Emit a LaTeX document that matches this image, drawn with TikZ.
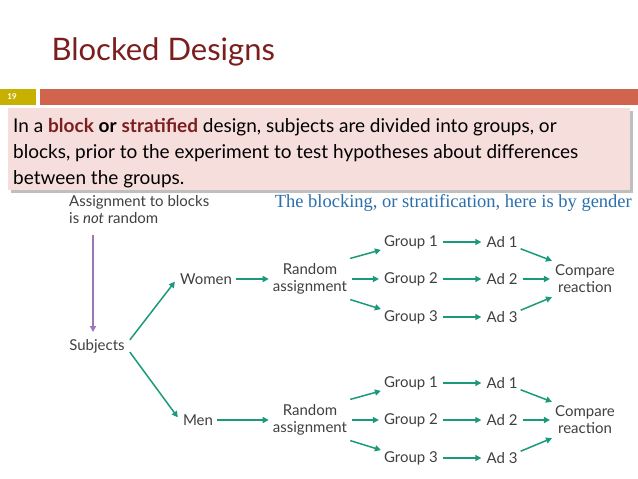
\documentclass[tikz,border=0pt]{standalone}
\usepackage{fontspec}
\setmainfont{Liberation Serif}
\setsansfont{Lato}
\usetikzlibrary{arrows.meta}
\definecolor{ttl}{HTML}{7A1E1E}
\definecolor{bar}{HTML}{D0644C}
\definecolor{num}{HTML}{C8B000}
\definecolor{pinkbg}{HTML}{F6DEDC}
\definecolor{grn}{HTML}{1A9A7A}
\definecolor{prp}{HTML}{9A78B8}
\definecolor{blu}{HTML}{2A6FAE}
\definecolor{txt}{HTML}{404040}
\tikzset{
 lbl/.style={font=\sffamily\fontsize{15}{17}\selectfont, text=txt, align=center, inner sep=1pt},
 ga/.style={draw=grn, line width=1.5pt, -{Triangle[length=6pt,width=6pt]}},
}
\begin{document}
\begin{tikzpicture}[x=1pt,y=-1pt]
\useasboundingbox (0,0) rectangle (638,479);
\fill[white] (0,0) rectangle (638,479);
\node[anchor=west, font=\sffamily\fontsize{31}{33}\selectfont, text=ttl] (title) at (48,52) {Blocked Designs};
\fill[num] (0,89) rectangle (36,105);
\node[font=\sffamily\bfseries\fontsize{8}{9}\selectfont, text=white] (n) at (12,97) {19};
\fill[bar] (40,89) rectangle (638,105);
\fill[gray!50] (11,111) rectangle (633,193);
\fill[pinkbg] (8,108) rectangle (630,190);
\node[anchor=north west, font=\sffamily\fontsize{19}{26}\selectfont, align=left, text=black, inner sep=0pt] (box) at (13,118)
 {In a \textbf{\color{ttl}block} \textbf{or} \textbf{\color{ttl}stratified} design, subjects are divided into groups, or\\
 blocks, prior to the experiment to test hypotheses about differences\\
 between the groups.};
\node[anchor=east, font=\fontsize{18.5}{20}\selectfont, text=blu, inner sep=0pt] (bl) at (632,203) {The blocking, or stratification, here is by gender};
\node[anchor=north west, lbl, align=left] (asg) at (68,194) {Assignment to blocks\\is \emph{not} random};
\node[lbl] (subj) at (97,346) {Subjects};
\draw[draw=prp, line width=1.5pt, -{Triangle[length=6pt,width=6pt]}] (93,235) -- (93,332);
\foreach \k/\y/\nm/\xx in {w/279/Women/206, m/420/Men/198}{
 \node[lbl] (\k) at (\xx,\y) {\nm};
 \node[lbl] (\k r) at (310,\y) {Random\\assignment};
 \node[lbl] (\k g1) at (411,\y-37) {Group 1};
 \node[lbl] (\k g2) at (411,\y) {Group 2};
 \node[lbl] (\k g3) at (411,\y+38) {Group 3};
 \node[lbl] (\k a1) at (502,\y-37) {Ad 1};
 \node[lbl] (\k a2) at (502,\y) {Ad 2};
 \node[lbl] (\k a3) at (502,\y+38) {Ad 3};
 \node[lbl] (\k c) at (585,\y) {Compare\\reaction};
 \draw[ga] (\k.east) ++(3,0) -- ([xshift=-3pt]\k r.west);
 \draw[ga] ([xshift=2pt,yshift=4pt]\k r.north east) -- ([xshift=-2pt]\k g1.south west);
 \draw[ga] ([xshift=4pt]\k r.east) -- ([xshift=-4pt]\k g2.west);
 \draw[ga] ([xshift=2pt,yshift=-4pt]\k r.south east) -- ([xshift=-2pt]\k g3.north west);
 \foreach \i in {1,2,3}{\draw[ga] ([xshift=4pt]\k g\i.east) -- ([xshift=-4pt]\k a\i.west);}
 \draw[ga] ([xshift=2pt]\k a1.south east) -- ([xshift=-2pt,yshift=3pt]\k c.north west);
 \draw[ga] ([xshift=4pt]\k a2.east) -- ([xshift=-4pt]\k c.west);
 \draw[ga] ([xshift=2pt]\k a3.north east) -- ([xshift=-2pt,yshift=-3pt]\k c.south west);
}
\draw[ga] ([xshift=4pt,yshift=-2pt]subj.north east) -- ([xshift=-4pt,yshift=4pt]w.south west);
\draw[ga] ([xshift=4pt,yshift=2pt]subj.south east) -- ([xshift=-4pt,yshift=-4pt]m.north west);
\end{tikzpicture}
\end{document}
